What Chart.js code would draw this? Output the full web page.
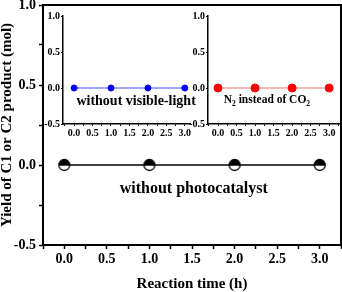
<!DOCTYPE html>
<html>
<head>
<meta charset="utf-8">
<script src="https://cdn.jsdelivr.net/npm/chart.js@4/dist/chart.umd.min.js"></script>
<style>
  body { margin: 0; background: #fff; }
  #wrap { position: relative; width: 342px; height: 292px; }
  canvas { position: absolute; }
</style>
</head>
<body>
<div id="wrap">
  <canvas id="main" width="342" height="292" style="left:0;top:0"></canvas>
  <canvas id="inset1" width="160" height="137" style="left:40px;top:8px"></canvas>
  <canvas id="inset2" width="156" height="137" style="left:185px;top:8px"></canvas>
</div>
<script>
// data
var times = [0, 1, 2, 3];
var noCatalyst = [0, 0, 0, 0];
var noLight = [0, 0, 0, 0];
var n2Instead = [0, 0, 0, 0];

var serif = "'Liberation Serif', 'Times New Roman', serif";

function halfDot(r) {
    var s = 2 * r + 3;
    var c = document.createElement('canvas');
    c.width = s; c.height = s;
    var g = c.getContext('2d');
    var m = s / 2;
    g.beginPath(); g.arc(m, m, r, 0, 2 * Math.PI); g.fillStyle = '#fff'; g.fill();
    g.beginPath(); g.arc(m, m, r, Math.PI - 0.15, 2 * Math.PI + 0.15); g.closePath(); g.fillStyle = '#000'; g.fill();
    g.beginPath(); g.arc(m, m, r, 0, 2 * Math.PI); g.lineWidth = 1.3; g.strokeStyle = '#000'; g.stroke();
    return c;
}

function halfLabel(v) {
    return Math.abs(v * 2 - Math.round(v * 2)) < 1e-6 ? v.toFixed(1) : '';
}

// text note drawn at data coordinates, runs may be subscript
function note(runs, x, y, size) {
    return {
        id: 'note',
        afterDatasetsDraw: function (chart) {
            var ctx = chart.ctx;
            var px = chart.scales.x.getPixelForValue(x);
            var py = chart.scales.y.getPixelForValue(y);
            ctx.save();
            ctx.fillStyle = '#000';
            ctx.textBaseline = 'middle';
            ctx.textAlign = 'left';
            var total = 0;
            runs.forEach(function (r) {
                ctx.font = 'bold ' + (r.sub ? size * 0.65 : size) + 'px ' + serif;
                r.w = ctx.measureText(r.t).width;
                total += r.w;
            });
            var cx = px - total / 2;
            runs.forEach(function (r) {
                ctx.font = 'bold ' + (r.sub ? size * 0.65 : size) + 'px ' + serif;
                ctx.fillText(r.t, cx, r.sub ? py + size * 0.3 : py);
                cx += r.w;
            });
            ctx.restore();
        }
    };
}

var frame = {
    id: 'frame',
    afterDraw: function (chart) {
        var a = chart.chartArea, ctx = chart.ctx;
        ctx.save();
        ctx.strokeStyle = '#000';
        ctx.lineWidth = 2;
        ctx.beginPath();
        ctx.moveTo(a.left, a.top); ctx.lineTo(a.right, a.top); ctx.lineTo(a.right, a.bottom);
        ctx.stroke();
        ctx.restore();
    }
};

new Chart(document.getElementById('main'), {
    type: 'line',
    data: {
        datasets: [{
            data: times.map(function (t, i) { return { x: t, y: noCatalyst[i] }; }),
            borderColor: '#000',
            borderWidth: 1.5,
            pointStyle: halfDot(5.5),
            pointRadius: 6,
            clip: false
        }]
    },
    options: {
        responsive: false,
        animation: false,
        layout: { autoPadding: false, padding: { top: 5, right: 1, left: 0, bottom: 0 } },
        plugins: { legend: { display: false }, tooltip: { enabled: false } },
        scales: {
            x: {
                type: 'linear', min: -0.25, max: 3.25,
                afterFit: function (s) { s.height = 47; s.paddingLeft = 0; s.paddingRight = 0; },
                ticks: { stepSize: 0.25, autoSkip: false, maxRotation: 0, padding: 2, color: '#000',
                         font: { family: serif, size: 14, weight: 'bold' }, callback: halfLabel, includeBounds: false },
                grid: { drawOnChartArea: false, tickLength: 4, tickColor: '#000', tickWidth: 1.5 },
                border: { color: '#000', width: 2 },
                title: { display: true, text: 'Reaction time (h)', color: '#000', padding: 0,
                         font: { family: serif, size: 15, weight: 'bold', lineHeight: 1 } }
            },
            y: {
                min: -0.5, max: 1.0,
                afterFit: function (s) { s.width = 43; s.paddingTop = 0; s.paddingBottom = 0; },
                ticks: { stepSize: 0.25, autoSkip: false, padding: 3, color: '#000',
                         font: { family: serif, size: 14, weight: 'bold' }, callback: halfLabel },
                grid: { drawOnChartArea: false, tickLength: 4, tickColor: '#000', tickWidth: 1.5 },
                border: { color: '#000', width: 2 },
                title: { display: true, text: 'Yield of C1 or C2 product (mol)', color: '#000', padding: 0,
                         font: { family: serif, size: 15, weight: 'bold', lineHeight: 1 } }
            }
        }
    },
    plugins: [frame, note([{ t: 'without photocatalyst' }], 1.52, -0.15, 16)]
});

function inset(id, values, color, lineColor, radius, xmin, xmax, padRight, text, tx, ty, size) {
    return new Chart(document.getElementById(id), {
        type: 'line',
        data: {
            datasets: [{
                data: times.map(function (t, i) { return { x: t, y: values[i] }; }),
                borderColor: lineColor,
                borderWidth: 1,
                pointBackgroundColor: color,
                pointBorderColor: color,
                pointRadius: radius,
                clip: false
            }]
        },
        options: {
            responsive: false,
            animation: false,
            layout: { autoPadding: false, padding: { top: 8, right: padRight, left: 0, bottom: 0 } },
            plugins: { legend: { display: false }, tooltip: { enabled: false } },
            scales: {
                x: {
                    type: 'linear', min: xmin, max: xmax,
                    afterFit: function (s) { s.height = 21; s.paddingLeft = 0; s.paddingRight = 0; },
                    ticks: { stepSize: 0.25, autoSkip: false, maxRotation: 0, padding: 1, color: '#000', includeBounds: false,
                             font: { family: serif, size: 10, weight: 'bold' }, callback: halfLabel },
                    grid: { drawOnChartArea: false, tickLength: 2, tickColor: '#000' },
                    border: { color: '#000', width: 1.5 }
                },
                y: {
                    min: -0.5, max: 1.0,
                    afterFit: function (s) { s.width = 23; s.paddingTop = 0; s.paddingBottom = 0; },
                    ticks: { stepSize: 0.5, padding: 1, color: '#000',
                             font: { family: serif, size: 10, weight: 'bold' }, callback: function (v) { return v.toFixed(1); } },
                    grid: { drawOnChartArea: false, tickLength: 2, tickColor: '#000' },
                    border: { color: '#000', width: 1.5 }
                }
            }
        },
        plugins: [note(text, tx, ty, size)]
    });
}

inset('inset1', noLight, '#0000ff', '#4a4aff', 3, -0.3, 3.14, 10,
      [{ t: 'without visible-light' }], 1.68, -0.18, 14);
inset('inset2', n2Instead, '#ff0000', '#f07070', 4, -0.27, 3.32, 0,
      [{ t: 'N' }, { t: '2', sub: true }, { t: ' instead of CO' }, { t: '2', sub: true }], 1.32, -0.17, 11.5);
</script>
</body>
</html>
